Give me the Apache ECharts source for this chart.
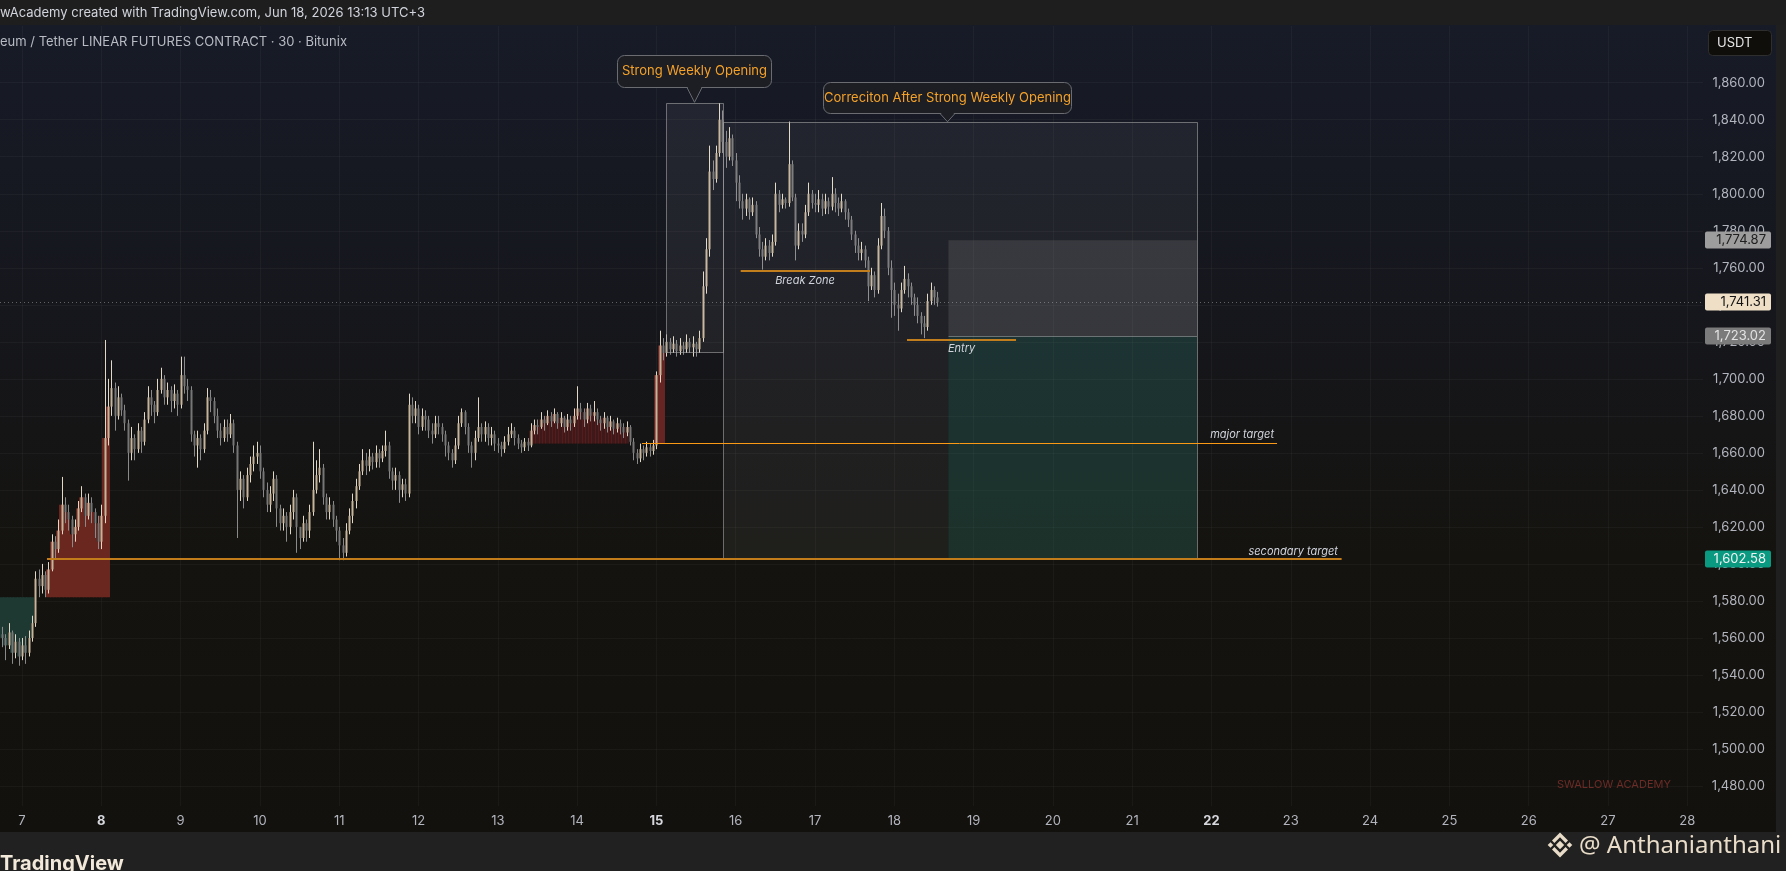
<!DOCTYPE html>
<html><head><meta charset="utf-8">
<script src="https://cdn.jsdelivr.net/npm/echarts@6/dist/echarts.min.js"></script>
<style>
html,body{margin:0;padding:0;background:#131210;}
#c{width:1786px;height:871px;background:linear-gradient(to bottom,#1e1e1e 0px,#1e1e1e 25px,#171b27 25px,#16171d 300px,#14130f 560px,#13110d 832px);}
</style></head><body><div id="c"></div>
<script>
// ---------- DATA ----------
// Hourly candles, first candle Jun 6 18:00, last Jun 18 13:00 (x unit = day of June)
const startDay = 6, startHour = 18;
const firstOpen = 1562;
const closes = [
1560,1556,1563,1552,1558,1550,
1556,1552,1560,1568,1592,1588,1594,1586,1597,1612,1608,1618,1632,1628,1624,1616,1620,1630,1636,1626,1633,1628,1622,1612,
1626,1668,1685,1695,1680,1690,1683,1676,1660,1668,1662,1672,1666,1678,1690,1686,1682,1694,1700,1690,1694,1688,1692,1686,
1702,1696,1694,1670,1664,1668,1662,1672,1690,1688,1680,1672,1668,1674,1670,1676,1664,1640,1646,1636,1648,1654,1658,1660,
1650,1640,1632,1638,1646,1630,1622,1626,1620,1628,1636,1620,1614,1622,1618,1628,1640,1648,1652,1636,1628,1632,1624,1618,
1610,1606,1618,1626,1634,1642,1650,1656,1653,1658,1655,1660,1657,1661,1664,1650,1645,1648,1640,1643,1638,1686,1680,1684,
1674,1680,1678,1672,1670,1676,1674,1670,1664,1660,1656,1664,1676,1682,1674,1664,1660,1668,1674,1670,1674,1668,1670,1665,
1664,1662,1666,1670,1672,1668,1665,1663,1666,1664,1672,1675,1674,1678,1676,1680,1677,1681,1676,1679,1674,1678,1676,1680,
1684,1682,1678,1684,1680,1682,1678,1676,1679,1674,1677,1673,1676,1674,1671,1674,1666,1660,1657,1662,1660,1663,1661,1664,
1702,1718,1714,1720,1716,1719,1715,1718,1716,1720,1717,1719,1716,1722,1750,1770,1812,1808,1822,1840,1828,1820,1830,1818,
1806,1796,1792,1797,1790,1794,1778,1770,1766,1772,1768,1774,1800,1794,1797,1795,1816,1798,1772,1780,1778,1790,1800,1795,
1794,1797,1792,1796,1793,1800,1795,1792,1796,1790,1786,1778,1772,1768,1770,1764,1750,1756,1748,1772,1788,1780,1760,1748,
1740,1738,1748,1754,1750,1744,1740,1734,1730,1728,1742,1748,1744,1741.31
];
const highs = [
1566,1562,1568,1564,1562,1560,
1560,1561,1564,1572,1596,1597,1600,1596,1601,1616,1615,1624,1647,1636,1632,1626,1624,1634,1642,1638,1638,1636,1630,1626,
1632,1721,1700,1710,1698,1696,1692,1686,1678,1674,1670,1676,1674,1682,1696,1694,1688,1700,1706,1702,1698,1696,1697,1694,
1712,1712,1700,1696,1672,1672,1670,1676,1695,1694,1690,1684,1676,1678,1678,1681,1678,1666,1650,1648,1652,1658,1664,1666,
1664,1652,1644,1642,1650,1648,1632,1630,1628,1632,1640,1638,1620,1626,1624,1632,1666,1656,1662,1654,1638,1636,1634,1626,
1620,1614,1622,1630,1638,1646,1654,1662,1660,1662,1660,1664,1662,1664,1672,1666,1652,1652,1650,1646,1646,1692,1690,1688,
1686,1684,1683,1680,1676,1680,1680,1676,1672,1666,1662,1668,1680,1684,1683,1676,1666,1672,1690,1676,1677,1676,1674,1672,
1668,1666,1669,1674,1676,1674,1670,1667,1668,1668,1676,1678,1678,1682,1680,1683,1682,1684,1682,1682,1680,1681,1680,1684,
1696,1687,1684,1687,1686,1688,1684,1680,1682,1680,1680,1678,1679,1678,1676,1677,1675,1668,1662,1665,1664,1666,1665,1667,
1704,1726,1722,1724,1722,1723,1721,1722,1720,1724,1722,1723,1720,1726,1758,1776,1826,1818,1826,1849,1845,1834,1836,1832,
1822,1810,1800,1800,1798,1798,1796,1782,1774,1776,1775,1778,1806,1802,1800,1798,1839,1818,1800,1784,1784,1794,1806,1802,
1800,1802,1800,1800,1798,1809,1803,1798,1800,1797,1792,1788,1780,1776,1774,1772,1766,1760,1758,1776,1795,1792,1782,1764,
1752,1746,1752,1761,1757,1752,1746,1744,1736,1734,1746,1752,1750,1747
];
const lows = [
1555,1548,1554,1546,1549,1545,
1548,1546,1550,1558,1566,1582,1584,1582,1584,1596,1603,1606,1616,1622,1618,1609,1612,1618,1628,1620,1624,1622,1614,1608,
1608,1622,1664,1680,1672,1678,1680,1672,1645,1656,1656,1660,1660,1664,1676,1680,1676,1680,1692,1686,1686,1682,1684,1680,
1684,1692,1688,1666,1658,1652,1656,1660,1670,1682,1676,1668,1664,1666,1666,1668,1660,1614,1634,1630,1634,1644,1650,1654,
1646,1636,1628,1628,1634,1620,1618,1618,1612,1616,1624,1606,1608,1612,1612,1614,1626,1638,1644,1632,1624,1624,1620,1612,
1602,1602,1604,1616,1622,1630,1640,1648,1648,1650,1651,1652,1652,1655,1658,1646,1640,1640,1633,1636,1634,1636,1676,1676,
1670,1672,1672,1668,1665,1668,1670,1666,1658,1656,1652,1654,1662,1674,1670,1660,1652,1656,1666,1666,1666,1664,1664,1661,
1660,1658,1660,1664,1668,1664,1662,1660,1661,1661,1663,1670,1670,1673,1672,1675,1674,1676,1673,1674,1671,1672,1672,1674,
1678,1678,1674,1676,1677,1677,1675,1672,1673,1671,1672,1670,1671,1670,1668,1669,1664,1656,1654,1655,1656,1658,1658,1659,
1662,1698,1710,1712,1713,1714,1712,1713,1713,1714,1714,1712,1712,1714,1720,1746,1766,1802,1806,1820,1822,1814,1818,1815,
1796,1792,1786,1788,1786,1788,1776,1766,1759,1764,1764,1766,1772,1790,1792,1792,1793,1796,1764,1770,1774,1776,1788,1792,
1790,1790,1788,1789,1789,1791,1790,1788,1790,1786,1782,1775,1768,1764,1764,1760,1742,1748,1744,1746,1770,1776,1756,1733,
1734,1726,1736,1746,1744,1740,1734,1730,1724,1722,1726,1740,1740,1739
];
// indicator fill zones: [fromDay, toDay, basePrice]
const fillZones = [[6.75,7.125,1582],[7.333,8.084,1582],[13.416,14.626,1665],[14.999,15.084,1665]];
const fillKinds = ['bull','bear','bear','bear'];
// tick labels
const dayTicks = [7,8,9,10,11,12,13,14,15,16,17,18,19,20,21,22,23,24,25,26,27,28];
const boldDays = [8,15,22];
const priceTicks = [1480,1500,1520,1540,1560,1580,1600,1620,1640,1660,1680,1700,1720,1740,1760,1780,1800,1820,1840,1860];
// drawings (time in days, price)
const rectBoxes = [[15.121,1848.9,15.840,1714.1],[15.840,1838.9,21.817,1602.58]];
const positionTool = [18.683, 21.817, 1774.87, 1723.02, 1602.58]; // start, end, stop, entry, target
const hLines = [[7.315,23.641,1602.58],[14.818,22.826,1665.2],[16.063,17.694,1758.0],[18.160,19.535,1721.0]];
const lastPrice = 1741.31;
const labelTexts = ['Break Zone','Entry','major target','secondary target'];
const labelPos = [[16.874,1753.0],[18.677,1716.1],[22.788,1669.6],[23.595,1606.4]];
const calloutTexts = ['Strong Weekly Opening','Correciton After Strong Weekly Opening'];
const calloutTips = [[15.487,1849.4],[18.677,1838.9]];
const tagValues = [1774.87, 1741.31, 1723.02, 1602.58];

// ---------- BUILD ----------
const candles = closes.map((c,i)=>{
  const t = startDay + (startHour + i)/24;
  const o = i===0 ? firstOpen : closes[i-1];
  return [t, o, c, lows[i], highs[i]];
});
const fillRows = [];
candles.forEach(r=>{
  fillZones.forEach((z,k)=>{
    if (r[0] >= z[0]-1e-6 && r[0] <= z[1]+1e-6) fillRows.push([r[0], r[2], z[2], k]);
  });
});
const fmt = v => v.toLocaleString('en-US',{minimumFractionDigits:2, maximumFractionDigits:2});
const UI = 'Inter, "Noto Sans", sans-serif';
const xMin = 6.7226, xMax = 28.198, yMin = 1469.2, yMax = 1890.64;
const half = 1/48;

const chart = echarts.init(document.getElementById('c'), null, {renderer:'canvas', width:1786, height:871});

const zoneFill = ['#1d3932','#6a271f','rgba(120,32,30,0.42)','#662422'];
const tagBg = ['#9d9d9d','#eedfc6','#7b7b7b','#0a9a82'];
const tagFg = ['#202020','#141414','#e2e2e2','#f2f2f2'];
const lineColor = ['#c27c1a','#fb9a14','#c27d1c','#c27d1c'];
const lineW = [2,1,2,2];
const labelAlign = ['center','left','right','right'];
const calloutW = [154,248], calloutH = [32,31], calloutGap = [15,9];

const binance = '#e9ddc9';

const option = {
  animation:false,
  backgroundColor:'transparent',
  grid:{left:0, right:83, top:26, bottom:65, containLabel:false},
  xAxis:{
    type:'value', min:xMin, max:xMax, position:'bottom',
    axisLine:{show:false},
    axisTick:{show:false, customValues:dayTicks},
    splitLine:{show:true, lineStyle:{color:'rgba(255,255,255,0.035)', width:1}},
    axisLabel:{
      customValues:dayTicks, margin:9, color:'#b2b5be', fontSize:13, fontFamily:UI,
      formatter: v => boldDays.indexOf(v) >= 0 ? '{b|' + v + '}' : String(v),
      rich:{b:{fontWeight:'bold', color:'#d6d8de', fontSize:13, fontFamily:UI}}
    }
  },
  yAxis:{
    type:'value', min:yMin, max:yMax, position:'right',
    axisLine:{show:false},
    axisTick:{show:false, customValues:priceTicks},
    splitLine:{show:true, lineStyle:{color:'rgba(255,255,255,0.035)', width:1}},
    axisLabel:{customValues:priceTicks, margin:62, align:'right', color:'#b2b5be', fontSize:13, fontFamily:UI, formatter: v => fmt(v)}
  },
  series:[
    { // indicator fills
      type:'custom', z:1, data:fillRows,
      renderItem:(p, api)=>{
        const t = api.value(0), c = api.value(1), base = api.value(2), k = api.value(3);
        if (fillKinds[k]==='bear' && c <= base) return null;
        if (fillKinds[k]==='bull' && c >= base) return null;
        const a = api.coord([t-half, base]), b = api.coord([t+half, c]);
        const x0 = Math.floor(a[0]), x1 = Math.ceil(b[0]);
        return {type:'rect', shape:{x:x0, y:Math.min(a[1],b[1]), width:x1-x0, height:Math.abs(b[1]-a[1])}, style:{fill:zoneFill[k]}};
      }
    },
    { // candles
      type:'custom', z:3, data:candles,
      renderItem:(p, api)=>{
        const t = api.value(0), o = api.value(1), c = api.value(2), l = api.value(3), h = api.value(4);
        const pO = api.coord([t,o]), pC = api.coord([t,c]), pL = api.coord([t,Math.min(l,o,c)]), pH = api.coord([t,Math.max(h,o,c)]);
        const x = Math.round(pO[0]) + 0.5;
        const up = c >= o;
        const top = Math.min(pO[1], pC[1]), bot = Math.max(pO[1], pC[1]);
        return {type:'group', children:[
          {type:'line', shape:{x1:x, y1:pH[1], x2:x, y2:pL[1]}, style:{stroke: up ? '#e3d8c6' : '#8a8a8a', lineWidth:1}},
          {type:'rect', shape:{x:x-1, y:top, width:2, height:Math.max(1, bot-top)}, style:{fill: up ? '#c6b49a' : '#767676'}}
        ]};
      }
    },
    { // rectangles
      type:'custom', z:4, data:rectBoxes,
      renderItem:(p, api)=>{
        const a = api.coord([api.value(0), api.value(1)]), b = api.coord([api.value(2), api.value(3)]);
        return {type:'rect', shape:{x:Math.round(a[0])+0.5, y:Math.round(a[1])+0.5, width:Math.round(b[0]-a[0]), height:Math.round(b[1]-a[1])},
          style:{fill: p.dataIndex===0 ? 'rgba(255,255,255,0.055)' : 'rgba(255,255,255,0.05)', stroke:'rgba(165,165,165,0.6)', lineWidth:1}};
      }
    },
    { // position tool
      type:'custom', z:5, data:[positionTool],
      renderItem:(p, api)=>{
        const t0 = api.value(0), t1 = api.value(1), s = api.value(2), e = api.value(3), g = api.value(4);
        const a = api.coord([t0, s]), b = api.coord([t1, e]), c = api.coord([t1, g]);
        return {type:'group', children:[
          {type:'rect', shape:{x:a[0], y:a[1], width:b[0]-a[0], height:b[1]-a[1]}, style:{fill:'rgba(165,165,170,0.17)'}},
          {type:'rect', shape:{x:a[0], y:b[1], width:b[0]-a[0], height:c[1]-b[1]}, style:{fill:'rgba(8,153,129,0.15)'}},
          {type:'line', shape:{x1:a[0], y1:Math.round(b[1])+0.5, x2:b[0], y2:Math.round(b[1])+0.5}, style:{stroke:'rgba(170,170,170,0.55)', lineWidth:1}}
        ]};
      }
    },
    { // last price dotted line
      type:'custom', z:5, data:[[lastPrice]],
      renderItem:(p, api)=>{
        const a = api.coord([xMin, api.value(0)]), b = api.coord([xMax, api.value(0)]);
        const y = Math.round(a[1]) + 0.5;
        return {type:'line', shape:{x1:a[0], y1:y, x2:b[0], y2:y}, style:{stroke:'rgba(190,190,190,0.45)', lineWidth:1, lineDash:[1,3]}};
      }
    },
    { // horizontal drawn lines
      type:'custom', z:6, data:hLines,
      renderItem:(p, api)=>{
        const a = api.coord([api.value(0), api.value(2)]), b = api.coord([api.value(1), api.value(2)]);
        const i = p.dataIndex;
        const y = lineW[i] === 1 ? Math.round(a[1]) + 0.5 : Math.round(a[1]);
        return {type:'line', shape:{x1:a[0], y1:y, x2:b[0], y2:y}, style:{stroke:lineColor[i], lineWidth:lineW[i]}};
      }
    },
    { // text labels
      type:'custom', z:7, data:labelPos,
      renderItem:(p, api)=>{
        const a = api.coord([api.value(0), api.value(1)]);
        return {type:'text', x:a[0], y:a[1], style:{text:labelTexts[p.dataIndex], fill:'#d1d4dc', font:'italic 11px ' + UI, align:labelAlign[p.dataIndex], verticalAlign:'middle'}};
      }
    },
    { // callouts
      type:'custom', z:8, data:calloutTips,
      renderItem:(p, api)=>{
        const i = p.dataIndex;
        const tip = api.coord([api.value(0), api.value(1)]);
        const w = calloutW[i], h = calloutH[i], gap = calloutGap[i];
        const cx = Math.round(tip[0]) - 0.5, bottom = Math.round(tip[1]) - gap + 0.5;
        const top = bottom - h, left = cx - w/2;
        const bw = 7.5;
        return {type:'group', children:[
          {type:'rect', shape:{x:left, y:top, width:w, height:h, r:7}, style:{fill:'#1c1e24', stroke:'#6a6c72', lineWidth:1}},
          {type:'polygon', shape:{points:[[cx-bw, bottom-1.5],[cx+bw, bottom-1.5],[cx, tip[1]]]}, style:{fill:'#1c1e24'}},
          {type:'polyline', shape:{points:[[cx-bw, bottom],[cx, tip[1]],[cx+bw, bottom]]}, style:{stroke:'#6a6c72', lineWidth:1, fill:null}},
          {type:'text', x:cx, y:top + h/2, style:{text:calloutTexts[i], fill:'#f5a128', font:'13px ' + UI, align:'center', verticalAlign:'middle'}}
        ]};
      }
    },
    { // price axis tags
      type:'custom', z:9, data:tagValues.map(v=>[v]),
      renderItem:(p, api)=>{
        const i = p.dataIndex;
        const a = api.coord([xMax, api.value(0)]);
        const x = a[0] + 2, y = Math.round(a[1]);
        return {type:'group', children:[
          {type:'rect', shape:{x:x, y:y-8.5, width:66, height:17, r:2}, style:{fill:tagBg[i]}},
          {type:'text', x:1766, y:y, style:{text:fmt(api.value(0)), fill:tagFg[i], font:'13px ' + UI, align:'right', verticalAlign:'middle'}}
        ]};
      }
    }
  ],
  graphic:[
    {type:'rect', z:100, shape:{x:0, y:0, width:1786, height:25}, style:{fill:'#1e1e1e'}},
    {type:'text', z:101, x:0, y:13, style:{text:'wAcademy created with TradingView.com, Jun 18, 2026 13:13 UTC+3', fill:'#d1d4dc', font:'13px ' + UI, verticalAlign:'middle'}},
    {type:'text', z:101, x:0, y:42, style:{text:'eum / Tether LINEAR FUTURES CONTRACT \u00b7 30 \u00b7 Bitunix', fill:'#b8bbc2', font:'13px ' + UI, verticalAlign:'middle'}},
    {type:'rect', z:100, shape:{x:1776, y:25, width:10, height:846}, style:{fill:'#1f1f1f'}},
    {type:'rect', z:100, shape:{x:0, y:832, width:1786, height:39}, style:{fill:'#212121'}},
    {type:'rect', z:101, shape:{x:1708.5, y:30.5, width:63, height:25, r:4}, style:{fill:'#0f0e0b', stroke:'#2e2e2e', lineWidth:1}},
    {type:'text', z:102, x:1717, y:43, style:{text:'USDT', fill:'#e6e6e6', font:'13px ' + UI, verticalAlign:'middle'}},
    {type:'text', z:101, x:1557, y:785, style:{text:'SWALLOW ACADEMY', fill:'#6b2b26', font:'11px ' + UI, verticalAlign:'middle'}},
    {type:'text', z:101, x:0, y:864, style:{text:'TradingView', fill:'#f3e9da', font:'bold 20px ' + UI, verticalAlign:'middle'}},
    {type:'text', z:101, x:1579, y:846, style:{text:'@ Anthanianthani', fill:binance, font:'24px "Noto Sans", sans-serif', verticalAlign:'middle'}},
    {type:'polygon', z:102, x:1560, y:845, shape:{points:[[0,-4.2],[4.2,0],[0,4.2],[-4.2,0]]}, style:{fill:binance}},
    {type:'polygon', z:102, x:1560, y:845, shape:{points:[[-9.5,-2.8],[-6.7,0],[-9.5,2.8],[-12.3,0]]}, style:{fill:binance}},
    {type:'polygon', z:102, x:1560, y:845, shape:{points:[[9.5,-2.8],[12.3,0],[9.5,2.8],[6.7,0]]}, style:{fill:binance}},
    {type:'polygon', z:102, x:1560, y:845, shape:{points:[[0,-12.5],[8,-4.5],[5.6,-2.1],[0,-7.7],[-5.6,-2.1],[-8,-4.5]]}, style:{fill:binance}},
    {type:'polygon', z:102, x:1560, y:845, shape:{points:[[0,12.5],[8,4.5],[5.6,2.1],[0,7.7],[-5.6,2.1],[-8,4.5]]}, style:{fill:binance}}
  ]
};
chart.setOption(option);
</script>
</body></html>
